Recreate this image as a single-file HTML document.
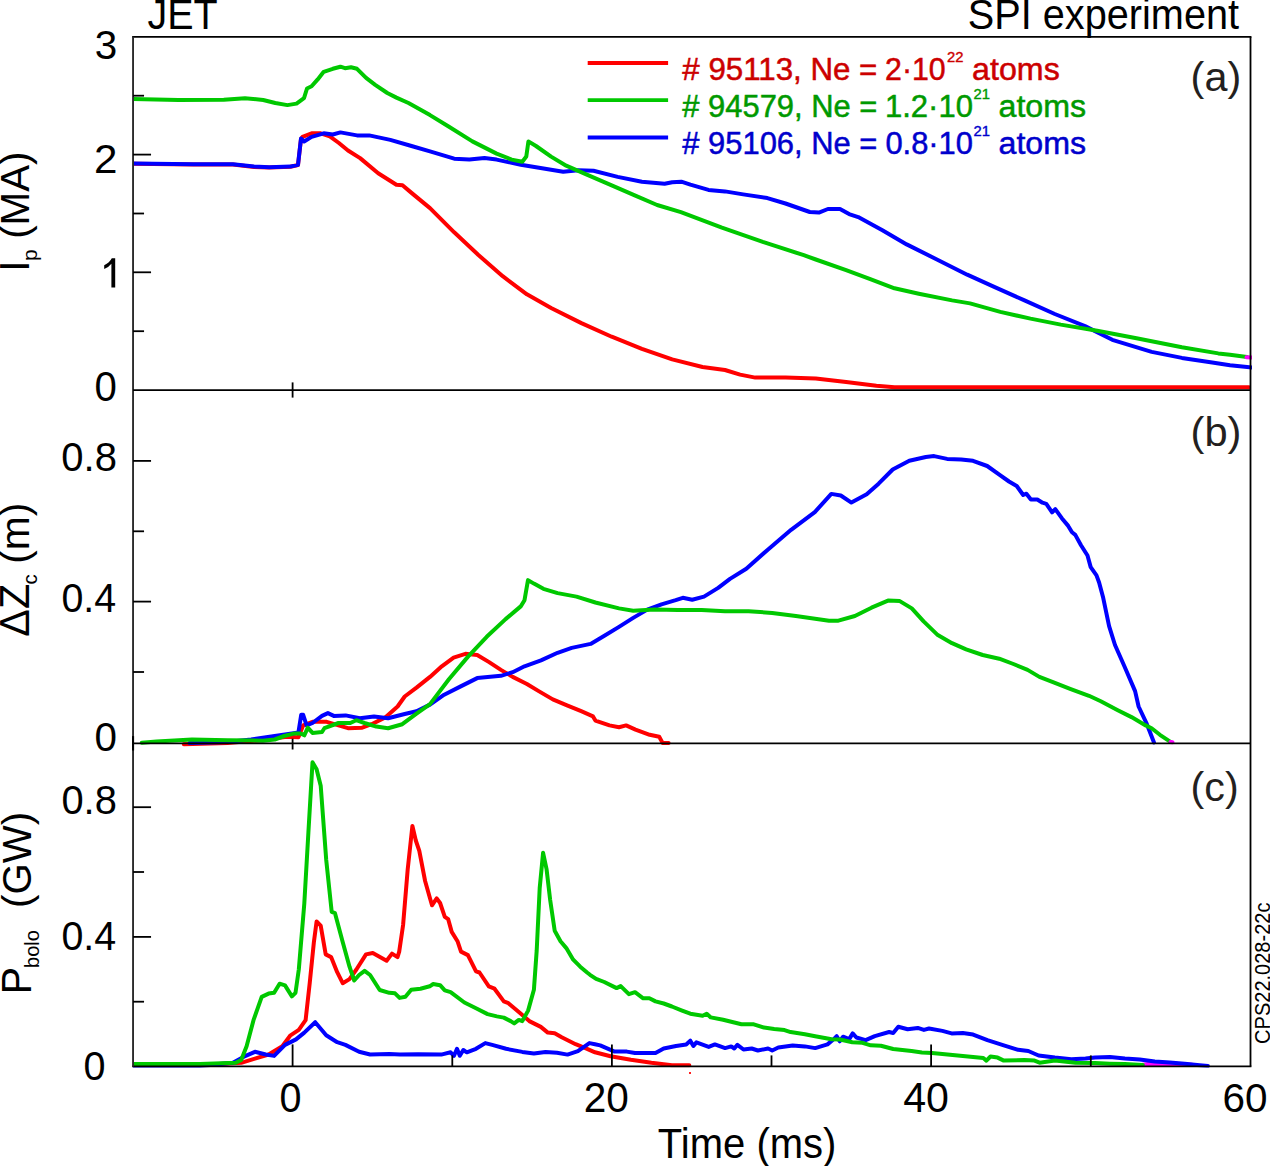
<!DOCTYPE html>
<html><head><meta charset="utf-8"><title>JET SPI experiment</title>
<style>html,body{margin:0;padding:0;background:#fff;width:1270px;height:1166px;overflow:hidden}svg{display:block}text{font-family:"Liberation Sans",sans-serif}</style>
</head><body>
<svg width="1270" height="1166" viewBox="0 0 1270 1166">
<rect width="1270" height="1166" fill="#fff"/>
<defs><clipPath id="cp"><rect x="133.05" y="36.8" width="1118.95" height="1030.6000000000001"/></clipPath></defs><g fill="none" stroke-width="4.0" stroke-linejoin="round" stroke-linecap="round" clip-path="url(#cp)"><polyline stroke="#ff0000" points="133.0,163.8 193.5,164.4 232.9,164.6 254.1,167.0 269.2,167.6 290.4,166.8 298.0,165.0 301.0,139.0 302.5,136.9 311.6,133.3 320.7,133.3 329.8,136.3 338.9,143.0 348.0,150.5 360.1,158.1 378.2,173.2 396.4,184.7 402.5,185.3 411.5,192.9 430.0,208.1 454.2,232.3 478.4,255.0 502.7,276.2 526.9,294.3 551.1,308.0 581.4,323.1 611.7,336.7 641.9,348.8 672.2,359.4 702.5,367.0 725.0,370.0 740.1,374.6 755.3,377.6 785.5,377.6 815.8,378.5 846.1,382.1 876.4,385.8 894.5,387.3 937.0,387.3 1249.0,387.3"/><polyline stroke="#0000ff" points="133.0,163.6 193.5,164.2 232.9,164.2 254.1,166.6 269.2,167.2 290.4,166.6 298.0,164.8 301.0,138.4 304.1,141.5 311.6,136.9 323.7,133.3 332.8,134.5 340.4,132.4 357.0,135.4 369.2,135.4 390.3,139.9 411.5,146.0 430.0,151.4 454.2,158.7 469.4,159.6 484.5,158.1 496.6,159.6 520.8,164.8 539.0,167.8 563.2,171.7 578.3,170.2 593.5,170.8 617.7,176.9 641.9,181.7 664.6,183.8 672.2,182.3 681.3,181.7 690.4,184.7 708.5,189.9 725.0,191.4 743.2,194.4 767.4,198.1 785.5,203.5 809.8,212.0 818.9,212.6 827.9,209.0 840.0,209.0 849.1,214.1 858.2,217.1 882.4,230.2 906.7,244.4 936.9,259.5 967.2,274.7 994.2,286.8 1024.5,300.4 1054.8,314.0 1085.0,326.1 1112.3,339.8 1151.7,351.9 1181.9,357.9 1212.2,362.5 1230.0,365.3 1252.0,367.4"/><polyline stroke="#00c800" points="133.0,99.1 178.4,100.0 223.8,99.7 245.0,98.2 263.2,100.0 275.3,103.0 287.4,105.1 296.5,103.6 304.0,98.2 307.0,88.5 311.6,86.3 317.7,79.4 323.7,71.8 332.8,68.8 340.4,66.7 345.0,68.2 351.0,67.3 357.0,68.8 366.1,77.9 375.2,84.8 387.3,93.0 396.4,97.6 408.5,103.0 420.6,109.7 430.0,115.1 448.2,126.3 472.4,141.4 496.6,153.6 511.7,159.6 522.3,161.7 526.3,156.6 528.4,141.4 536.0,146.0 551.1,156.6 566.2,165.7 587.4,174.8 611.7,185.3 635.9,195.9 657.1,205.0 680.9,212.2 721.9,227.6 762.8,241.9 803.8,255.2 815.8,259.5 846.1,270.1 870.3,279.2 894.5,288.3 918.8,293.7 952.1,300.4 970.0,303.4 1000.3,311.9 1030.5,318.6 1060.8,324.6 1097.2,330.7 1136.5,338.2 1181.9,347.3 1218.3,353.4 1230.0,354.8 1247.0,357.1"/><polyline stroke="#ff0000" points="183.8,744.3 227.5,743.1 262.9,740.0 286.6,736.7 298.4,737.2 303.1,725.4 312.5,721.8 326.7,721.8 338.5,725.4 348.0,728.2 362.2,727.7 371.6,724.2 385.8,717.1 397.6,706.5 404.7,696.5 416.5,687.6 430.0,676.9 441.8,666.3 453.6,657.6 465.4,653.8 477.2,655.0 489.1,662.1 500.9,669.9 512.7,676.9 526.9,684.0 538.7,691.1 552.8,699.4 567.0,705.3 581.2,711.2 593.0,716.4 595.4,720.6 609.5,725.4 619.0,727.3 626.1,725.4 635.5,729.6 649.7,734.8 659.2,736.7 662.7,743.1 668.6,743.1"/><polyline stroke="#0000ff" points="189.7,743.1 227.5,741.9 251.1,739.5 274.7,736.0 293.6,733.2 298.4,732.5 301.2,714.7 303.1,714.7 306.6,725.4 312.5,723.0 322.0,715.9 327.9,713.1 333.8,715.9 345.6,715.4 359.8,718.3 374.0,716.4 388.1,718.3 404.7,714.0 416.5,711.2 430.0,704.6 444.2,694.7 460.7,686.4 477.2,678.1 500.9,675.8 512.7,672.2 524.5,666.3 541.0,660.4 557.6,652.8 571.7,647.9 590.6,643.9 604.8,635.6 619.0,626.9 633.2,617.9 647.3,609.6 661.5,604.4 675.7,600.2 682.8,597.8 692.2,599.7 704.0,596.6 718.2,587.9 730.0,578.9 746.3,568.8 767.5,549.9 791.1,529.8 814.8,512.1 831.3,493.9 840.8,495.5 851.4,502.6 866.7,494.3 878.6,483.7 892.7,469.5 909.3,460.8 925.8,457.0 934.1,456.1 947.1,458.9 961.2,459.4 973.0,460.8 987.2,466.0 1000.0,475.1 1009.0,481.5 1016.7,486.0 1023.2,495.0 1026.4,493.7 1030.9,499.5 1037.3,499.5 1042.5,502.7 1046.3,503.8 1052.1,512.4 1055.3,509.2 1061.8,518.2 1068.2,525.9 1072.0,532.3 1075.3,534.9 1081.0,545.2 1087.5,555.5 1090.7,567.1 1096.5,575.4 1099.1,582.5 1103.2,597.8 1109.1,626.1 1115.0,645.0 1124.4,666.3 1135.1,691.1 1138.6,706.5 1146.9,724.2 1154.0,742.4"/><polyline stroke="#00c800" points="141.8,742.7 156.6,741.4 192.0,739.5 227.5,740.2 262.9,740.7 274.7,739.5 284.2,736.0 293.6,733.6 300.7,733.6 304.3,735.3 307.8,727.7 312.5,732.9 322.0,732.0 324.4,728.2 338.5,723.0 350.3,723.0 356.2,720.2 364.5,723.0 376.3,726.6 388.1,728.2 402.3,724.2 416.5,713.6 430.0,704.1 448.9,679.3 467.8,656.9 486.7,636.8 505.6,619.1 521.0,606.1 524.5,600.2 528.0,580.1 533.9,583.6 543.4,588.8 557.6,593.1 576.5,596.6 595.4,602.5 619.0,608.4 633.2,610.8 654.4,609.6 678.0,610.1 701.7,610.1 725.0,611.3 748.6,611.3 772.2,612.9 795.9,616.0 829.0,620.7 838.4,620.7 854.9,616.0 871.5,607.7 888.0,600.6 899.8,601.1 911.8,608.4 923.6,621.4 937.8,635.1 952.0,643.2 966.1,649.3 982.7,655.0 999.2,658.7 1013.4,664.0 1027.6,669.9 1039.4,676.9 1053.6,682.4 1070.1,688.8 1089.0,695.8 1100.8,701.3 1117.3,710.0 1131.5,717.1 1145.7,725.4 1151.6,728.2 1159.9,734.8 1170.5,741.9"/><polyline stroke="#ff00ff" points="1142.5,1064.8 1150.0,1063.8 1158.0,1064.6 1166.0,1065.1 1174.0,1064.2 1184.0,1064.3 1192.0,1064.8"/><polyline stroke="#ff0000" points="133.0,1065.0 200.0,1065.0 241.2,1062.8 254.9,1058.6 268.6,1054.5 282.3,1046.3 290.5,1035.3 298.8,1029.8 305.6,1020.2 309.7,983.2 313.9,942.0 316.6,921.5 320.7,925.6 325.7,954.4 331.1,957.1 337.2,972.2 342.7,983.2 349.5,979.1 356.4,969.5 366.0,954.4 372.8,953.0 386.6,960.7 392.0,953.6 397.5,957.1 399.2,951.6 403.1,925.0 407.7,869.4 412.4,825.9 415.8,840.5 419.3,850.9 425.1,881.0 429.7,897.2 432.0,905.3 436.7,898.4 440.1,903.0 444.8,916.9 448.2,919.2 451.7,931.9 457.5,941.2 461.0,951.6 467.9,955.1 476.0,971.3 479.5,972.5 488.8,986.3 494.5,988.7 503.8,1001.4 508.4,1003.2 520.0,1013.0 529.3,1021.1 540.8,1026.9 547.8,1032.6 554.7,1033.3 561.7,1037.3 575.6,1044.2 587.1,1048.8 595.0,1052.3 610.5,1056.3 630.9,1059.8 651.4,1062.8 671.9,1065.3 689.3,1065.3"/><polyline stroke="#0000ff" points="133.0,1066.0 200.0,1066.0 232.9,1062.8 243.9,1056.7 254.9,1051.8 265.8,1054.5 274.1,1055.9 285.0,1044.9 296.0,1039.4 304.3,1032.6 315.2,1022.2 326.2,1035.3 337.2,1042.2 345.4,1044.9 359.1,1051.8 370.1,1054.5 389.3,1054.0 400.0,1054.5 418.1,1054.2 441.3,1054.6 450.6,1052.3 454.0,1055.8 457.0,1048.8 459.8,1055.8 463.3,1050.0 466.8,1052.3 476.0,1048.8 485.3,1043.1 492.2,1044.9 506.1,1048.8 522.3,1051.9 533.9,1053.5 545.5,1051.9 557.0,1052.8 567.5,1054.6 577.9,1051.2 589.4,1043.1 595.0,1044.2 600.2,1045.4 614.6,1051.6 626.8,1051.6 635.0,1053.0 655.5,1053.0 663.7,1048.5 676.0,1046.0 686.2,1044.4 690.3,1040.7 693.4,1046.0 696.4,1042.4 708.7,1046.9 714.9,1044.4 725.1,1048.1 731.2,1046.4 734.3,1048.5 737.4,1044.8 743.5,1049.5 751.7,1048.5 757.9,1050.5 768.1,1048.5 772.2,1050.5 778.3,1047.5 792.7,1045.4 804.9,1046.4 815.2,1048.1 827.5,1044.4 833.6,1039.3 836.7,1036.2 839.7,1041.3 843.1,1036.7 849.2,1039.1 852.7,1033.4 856.4,1037.5 865.6,1040.2 874.8,1036.1 889.1,1032.0 893.2,1033.0 898.3,1026.8 907.6,1029.3 917.8,1027.9 923.9,1029.9 929.0,1028.5 942.4,1030.9 951.6,1033.4 962.8,1033.0 973.1,1034.6 987.4,1040.2 1003.8,1045.3 1018.1,1049.8 1028.3,1051.0 1038.6,1055.5 1054.9,1057.6 1071.3,1059.2 1085.6,1058.6 1095.0,1057.4 1109.9,1057.1 1124.9,1058.6 1139.8,1059.6 1154.8,1061.6 1169.8,1062.6 1184.7,1063.7 1199.7,1065.2 1207.9,1066.1"/><polyline stroke="#00c800" points="133.0,1064.1 200.0,1064.1 235.7,1062.8 241.2,1060.0 246.6,1046.3 253.5,1020.2 261.7,996.9 268.6,993.6 274.1,992.8 279.6,983.7 285.0,985.4 291.9,996.4 295.5,992.8 298.8,969.5 304.3,903.6 308.4,832.3 312.5,762.3 316.6,769.2 320.7,785.7 326.2,859.7 331.7,911.9 335.0,913.2 342.7,942.0 349.5,966.7 354.2,980.5 359.1,975.0 364.6,970.8 370.1,975.0 379.7,990.0 389.3,992.8 395.0,993.3 399.6,997.9 405.4,996.8 411.2,989.8 420.5,988.7 429.7,986.3 433.2,984.0 440.1,985.2 444.8,990.3 450.6,992.1 464.4,1002.5 476.0,1008.3 487.6,1014.1 496.9,1016.4 503.8,1017.6 510.7,1021.1 514.2,1023.4 518.8,1019.9 522.3,1021.1 528.1,1010.6 533.9,989.8 536.7,950.5 539.7,888.0 543.1,852.8 546.6,869.4 550.1,899.5 554.7,930.8 560.5,941.2 566.3,948.1 573.2,959.7 580.2,966.7 587.1,972.5 590.0,974.8 596.1,978.9 604.3,982.0 616.6,988.1 620.7,986.1 628.9,994.2 635.0,992.2 643.2,998.3 649.4,998.3 655.5,1001.4 663.7,1003.5 671.9,1006.5 682.1,1010.6 690.3,1013.7 702.6,1015.7 706.7,1013.7 710.8,1017.4 723.1,1019.8 733.3,1022.3 741.5,1024.3 753.8,1024.3 764.0,1027.6 774.2,1029.0 784.5,1030.1 790.6,1032.1 804.9,1034.2 815.2,1036.2 831.6,1039.3 840.0,1039.5 852.3,1042.2 862.5,1042.8 870.7,1045.3 880.9,1045.7 893.2,1049.0 911.6,1051.0 921.9,1052.4 932.1,1053.0 952.6,1055.1 973.1,1057.1 983.3,1058.0 986.4,1060.6 990.5,1056.5 997.6,1057.6 1003.8,1060.6 1024.2,1060.0 1034.5,1060.6 1039.6,1062.7 1054.9,1060.6 1075.4,1062.7 1095.0,1063.1 1109.9,1063.7 1124.9,1064.1 1142.8,1064.9"/><polyline stroke="#ff00ff" points="1246.5,357.3 1252.0,357.4"/><polyline stroke="#ff00ff" points="1170.5,742.0 1172.5,742.3"/></g><rect x="689" y="1072" width="2" height="2" fill="#ff2020"/><g stroke="#000" stroke-width="1.8" fill="none"><line x1="132.15" y1="36.8" x2="1251.4" y2="36.8"/><line x1="132.15" y1="1066.4" x2="1251.4" y2="1066.4"/><line x1="1250.5" y1="36.8" x2="1250.5" y2="1066.4"/><line x1="133.05" y1="36.8" x2="133.05" y2="1066.4" stroke="#2b2b2b" stroke-width="1.9"/><line x1="133.05" y1="736.1" x2="133.05" y2="750.5" stroke="#000" stroke-width="2.1"/><line x1="133.05" y1="390.1" x2="1250.5" y2="390.1"/><line x1="133.05" y1="743.4" x2="1250.5" y2="743.4"/><line x1="133.05" y1="272.3" x2="151.05" y2="272.3"/><line x1="133.05" y1="154.6" x2="151.05" y2="154.6"/><line x1="133.05" y1="331.2" x2="144.05" y2="331.2"/><line x1="133.05" y1="213.5" x2="144.05" y2="213.5"/><line x1="133.05" y1="95.7" x2="144.05" y2="95.7"/><line x1="133.05" y1="601.6" x2="151.05" y2="601.6"/><line x1="133.05" y1="460.9" x2="151.05" y2="460.9"/><line x1="133.05" y1="672.0" x2="144.05" y2="672.0"/><line x1="133.05" y1="531.3" x2="144.05" y2="531.3"/><line x1="133.05" y1="936.9" x2="151.05" y2="936.9"/><line x1="133.05" y1="807.2" x2="151.05" y2="807.2"/><line x1="133.05" y1="1001.7" x2="144.05" y2="1001.7"/><line x1="133.05" y1="872.0" x2="144.05" y2="872.0"/><line x1="292.6" y1="382.4" x2="292.6" y2="397.6"/><line x1="292.6" y1="738.7" x2="292.6" y2="749.5"/><line x1="292.6" y1="1066.4" x2="292.6" y2="1044.4"/><line x1="611.9" y1="1066.4" x2="611.9" y2="1044.4"/><line x1="931.1" y1="1066.4" x2="931.1" y2="1044.4"/><line x1="452.3" y1="1066.4" x2="452.3" y2="1055.4"/><line x1="771.5" y1="1066.4" x2="771.5" y2="1055.4"/><line x1="1090.8" y1="1066.4" x2="1090.8" y2="1055.4"/></g><g stroke-width="3.8"><line x1="587.7" y1="63.0" x2="668.1" y2="63.0" stroke="#ff0000"/><line x1="587.7" y1="100.2" x2="668.1" y2="100.2" stroke="#00c800"/><line x1="587.7" y1="137.5" x2="668.1" y2="137.5" stroke="#0000ff"/></g>
<g font-family="Liberation Sans, sans-serif">
<text transform="translate(147.51,29.10) scale(0.9871,1.0450)" font-size="40" fill="#000">JET</text><text transform="translate(967.81,29.00) scale(0.9919,1.0450)" font-size="40" fill="#000">SPI experiment</text><text transform="translate(94.68,58.59) scale(1.0105,1.0318)" font-size="40" fill="#000">3</text><text transform="translate(93.89,172.90) scale(1.0549,1.0323)" font-size="40" fill="#000">2</text><text transform="translate(94.59,401.38) scale(1.0052,1.0495)" font-size="40" fill="#000">0</text><text transform="translate(61.30,471.19) scale(1.0000,1.0353)" font-size="40" fill="#000">0.8</text><text transform="translate(61.42,612.39) scale(0.9849,1.0318)" font-size="40" fill="#000">0.4</text><text transform="translate(94.48,751.49) scale(1.0105,1.0318)" font-size="40" fill="#000">0</text><text transform="translate(61.41,813.79) scale(0.9962,1.0318)" font-size="40" fill="#000">0.8</text><text transform="translate(61.42,950.39) scale(0.9849,1.0318)" font-size="40" fill="#000">0.4</text><text transform="translate(83.42,1080.29) scale(0.9895,1.0353)" font-size="40" fill="#000">0</text><text transform="translate(279.42,1112.38) scale(0.9895,1.0495)" font-size="40" fill="#000">0</text><text transform="translate(583.67,1112.18) scale(1.0147,1.0424)" font-size="40" fill="#000">20</text><text transform="translate(903.17,1112.08) scale(1.0286,1.0495)" font-size="40" fill="#000">40</text><text transform="translate(1222.48,1112.09) scale(1.0122,1.0353)" font-size="40" fill="#000">60</text><path d="M115.2 287.4 L111.4 287.4 L111.4 263.8 Q108.6 267.4 104.2 269.1 L104.2 265.3 Q109.6 262.6 111.8 258.3 L115.2 258.3 Z" fill="#000"/><text transform="translate(657.80,1157.70) scale(1.0011,1.0600)" font-size="40" fill="#000">Time (ms)</text><text transform="translate(1190.61,91.31) scale(1.0342,1.0107)" font-size="40" fill="#231f20">(a)</text><text transform="translate(1190.60,446.29) scale(1.0410,1.0134)" font-size="40" fill="#231f20">(b)</text><text transform="translate(1190.62,801.46) scale(1.0312,1.0054)" font-size="40" fill="#231f20">(c)</text><text transform="translate(28.80,271.90) rotate(-90) scale(1.0541,1.0400)" font-size="40" fill="#000">I</text><text transform="translate(36.86,260.96) rotate(-90) scale(1.0444,0.9867)" font-size="20" fill="#000">p</text><text transform="translate(29.31,238.82) rotate(-90) scale(1.0086,1.0107)" font-size="40" fill="#000">(MA)</text><text transform="translate(29.20,636.64) rotate(-90) scale(1.0329,1.0618)" font-size="40" fill="#000">ΔZ</text><text transform="translate(37.00,584.62) rotate(-90) scale(1.0233,1.0000)" font-size="20" fill="#000">c</text><text transform="translate(29.31,563.75) rotate(-90) scale(1.0182,1.0107)" font-size="40" fill="#000">(m)</text><text transform="translate(30.90,994.52) rotate(-90) scale(1.0376,1.0473)" font-size="40" fill="#000">P</text><text transform="translate(38.80,968.00) rotate(-90) scale(1.0028,0.9932)" font-size="20" fill="#000">bolo</text><text transform="translate(30.86,908.02) rotate(-90) scale(1.0066,1.0054)" font-size="40" fill="#000">(GW)</text><text transform="translate(1270.19,1043.90) rotate(-90) scale(1.0014,1.0704)" font-size="20" fill="#000">CPS22.028-22c</text><text transform="translate(682.30,80.40) scale(1.0094,1.0200)" font-size="31" fill="#cc0000" stroke="#cc0000" stroke-width="0.5"># 95113, Ne =</text><text transform="translate(885.04,80.40) scale(0.9780,1.0200)" font-size="31" fill="#cc0000" stroke="#cc0000" stroke-width="0.5">2·10</text><text transform="translate(947.01,62.40) scale(0.9868,0.9524)" font-size="15" fill="#cc0000" stroke="#cc0000" stroke-width="0.4">22</text><text transform="translate(972.05,80.40) scale(1.0390,1.0200)" font-size="31" fill="#cc0000" stroke="#cc0000" stroke-width="0.5">atoms</text><text transform="translate(682.30,117.10) scale(0.9974,1.0200)" font-size="31" fill="#009900" stroke="#009900" stroke-width="0.5"># 94579, Ne =</text><text transform="translate(885.00,117.10) scale(1.0012,1.0200)" font-size="31" fill="#009900" stroke="#009900" stroke-width="0.5">1.2·10</text><text transform="translate(973.41,98.90) scale(0.9868,0.9524)" font-size="15" fill="#009900" stroke="#009900" stroke-width="0.4">21</text><text transform="translate(998.55,117.10) scale(1.0378,1.0200)" font-size="31" fill="#009900" stroke="#009900" stroke-width="0.5">atoms</text><text transform="translate(682.30,154.00) scale(0.9974,1.0200)" font-size="31" fill="#0000cc" stroke="#0000cc" stroke-width="0.5"># 95106, Ne =</text><text transform="translate(885.40,154.00) scale(0.9965,1.0200)" font-size="31" fill="#0000cc" stroke="#0000cc" stroke-width="0.5">0.8·10</text><text transform="translate(973.41,135.80) scale(0.9868,0.9524)" font-size="15" fill="#0000cc" stroke="#0000cc" stroke-width="0.4">21</text><text transform="translate(998.55,154.00) scale(1.0378,1.0200)" font-size="31" fill="#0000cc" stroke="#0000cc" stroke-width="0.5">atoms</text>
</g>
</svg>
</body></html>
